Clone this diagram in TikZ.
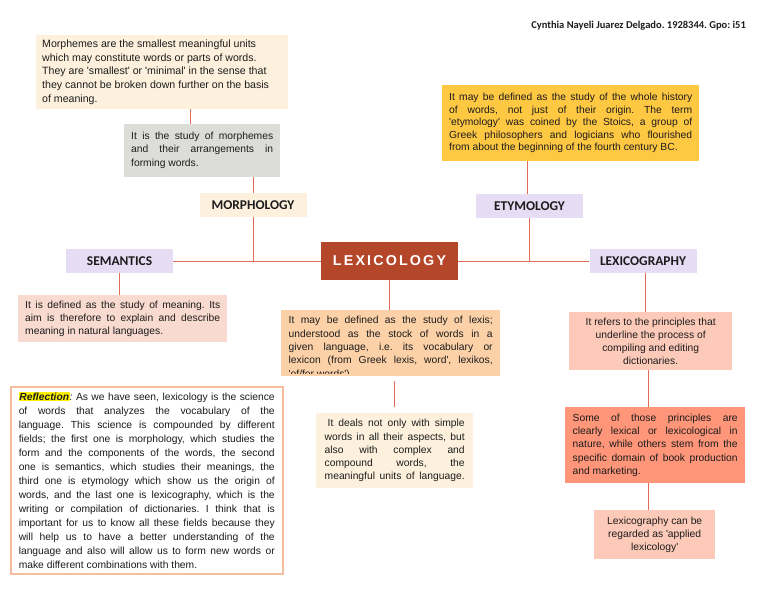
\documentclass[tikz,border=0pt]{standalone}
\usepackage{fontspec}
\setmainfont{Liberation Sans}
\newfontfamily\calf{Carlito}
\newfontfamily\lexf{Liberation Sans}[LetterSpace=15]
\usetikzlibrary{calc}
\definecolor{cream}{HTML}{FDF1DD}
\definecolor{graybx}{HTML}{DCDCD9}
\definecolor{lav}{HTML}{E6DCF3}
\definecolor{lexred}{HTML}{B4472A}
\definecolor{gold}{HTML}{FFC843}
\definecolor{salmonl}{HTML}{FDCAB9}
\definecolor{salmond}{HTML}{FF967A}
\definecolor{semp}{HTML}{F9DAD0}
\definecolor{peach}{HTML}{FDD1A8}
\definecolor{refl}{HTML}{F5BC9E}
\definecolor{connc}{HTML}{E26B55}
\definecolor{txt}{HTML}{1C1C1C}
\newlength\jw
\newcommand\Z{\spaceskip=0pt\xspaceskip=0pt\frenchspacing}
\newcommand\J[1]{\leavevmode\hbox to \jw{\Z #1}}
\newcommand\sq{\textquotesingle}
\setlength\fboxsep{0.6pt}
\newcommand\bodyfont[2]{\fontsize{10.3}{#1}\selectfont\setlength\jw{#2}}
\begin{document}
\begin{tikzpicture}[x=1pt,y=-1pt,
  box/.style={anchor=north west, inner ysep=0pt, text=txt, align=left},
  cbox/.style={box, align=flush center},
  lab/.style={fill=lav, minimum width=107pt, minimum height=24pt, inner sep=0pt,
    text=txt, font=\calf\bfseries\fontsize{13.4}{15}\selectfont},
  conn/.style={draw=connc, line width=0.9pt}]
\useasboundingbox (0,0) rectangle (768,594);

% header
\node[anchor=east, inner sep=0pt, text=txt, font=\calf\bfseries\fontsize{10.5}{12}\selectfont] (hdr) at (746,26)
  {\Z Cynthia Nayeli Juarez Delgado. 1928344. Gpo: i51};

% morphemes definition
\node[box, fill=cream, inner xsep=6pt, text width=240pt, minimum width=252pt, minimum height=74pt,
  font=\fontsize{10.6}{13.6}\selectfont] (mdef) at (36,35)
  {\Z Morphemes are the smallest meaningful units\\
   which may constitute words or parts of words.\\
   They are \sq smallest\sq{} or \sq minimal\sq{} in the sense that\\
   they cannot be broken down further on the basis\\
   of meaning.};

% morphology definition
\node[box, fill=graybx, inner xsep=7pt, text width=142pt, minimum height=53pt, font=\bodyfont{13.4}{142pt}] (gray) at (124,123.5)
  {\Z\J{It is the study of morphemes}\\
   \J{and their arrangements in}\\
   forming words.};

% labels
\node[lab, fill=cream] (morph) at (253,205) {MORPHOLOGY};
\node[lab] (sem) at (119.5,261) {SEMANTICS};
\node[lab] (ety) at (529.5,206) {ETYMOLOGY};
\node[lab] (lexg) at (643,261) {LEXICOGRAPHY};
\node[fill=lexred, minimum width=137pt, minimum height=38pt, inner sep=0pt, text=white,
  font=\lexf\bfseries\fontsize{14.3}{16}\selectfont] (lex) at (389.5,261) {LEXICOLOGY};

% etymology definition
\node[box, fill=gold, inner xsep=7pt, text width=243pt, minimum height=76pt, font=\bodyfont{12.5}{243pt}] (etydef) at (442,85)
  {\Z\J{It may be defined as the study of the whole history}\\
   \J{of words, not just of their origin. The term}\\
   \J{\sq etymology\sq{} was coined by the Stoics, a group of}\\
   \J{Greek philosophers and logicians who flourished}\\
   from about the beginning of the fourth century BC.};

% semantics definition
\node[box, fill=semp, inner xsep=7pt, text width=195pt, minimum height=47pt, font=\bodyfont{12.7}{195pt}] (semdef) at (18,295)
  {\Z\J{It is defined as the study of meaning. Its}\\
   \J{aim is therefore to explain and describe}\\
   meaning in natural languages.};

% lexis definition (last line clipped)
\node[box, fill=peach, minimum width=219pt, minimum height=66pt, inner sep=0pt] (lexis) at (281,310) {};
\begin{scope}
\clip (281,310) rectangle (500,373);
\node[box, inner xsep=7.5pt, inner ysep=6.3pt, text width=204pt, font=\bodyfont{13.3}{204pt}] (lexist) at (281,310)
  {\Z\J{It may be defined as the study of lexis;}\\
   \J{understood as the stock of words in a}\\
   \J{given language, i.e. its vocabulary or}\\
   \J{lexicon (from Greek lexis, word\sq, lexikos,}\\
   \sq of/for words\sq)};
\end{scope}

% deals
\node[box, fill=cream, inner xsep=8.5pt, text width=140pt, minimum height=75pt, font=\bodyfont{13.2}{140pt}] (deals) at (316,413)
  {\Z\J{\hspace{3pt}It deals not only with simple}\\
   \J{words in all their aspects, but}\\
   \J{also with complex and}\\
   \J{compound words, the}\\
   \J{meaningful units of language.}};

% lexicography definition
\node[cbox, fill=salmonl, inner xsep=6pt, text width=151pt, minimum height=58pt, font=\bodyfont{13.2}{151pt}] (lgdef) at (569,312)
  {\Z It refers to the principles that\\
   underline the process of\\
   compiling and editing\\
   dictionaries.};

\node[box, fill=salmond, inner xsep=7.5pt, text width=165pt, minimum height=76pt, font=\bodyfont{13.3}{165pt}] (some) at (565,407)
  {\Z\J{Some of those principles are}\\
   \J{clearly lexical or lexicological in}\\
   \J{nature, while others stem from the}\\
   \J{specific domain of book production}\\
   and marketing.};

\node[cbox, fill=salmonl, inner xsep=5pt, text width=111pt, minimum height=49pt, font=\bodyfont{13.3}{111pt}] (applied) at (594,510)
  {\Z Lexicography can be\\
   regarded as \sq applied\\
   lexicology\sq};

% reflection
\node[box, draw=refl, line width=1.5pt, fill=white, inner xsep=8pt, text width=256pt, minimum height=187pt,
  font=\bodyfont{14}{256pt}] (refl) at (10,386)
  {\Z\J{\colorbox{yellow}{\textbf{\textit{Reflection}}}\textit{:} As we have seen, lexicology is the science}\\
   \J{of words that analyzes the vocabulary of the}\\
   \J{language. This science is compounded by different}\\
   \J{fields; the first one is morphology, which studies the}\\
   \J{form and the components of the words, the second}\\
   \J{one is semantics, which studies their meanings, the}\\
   \J{third one is etymology which show us the origin of}\\
   \J{words, and the last one is lexicography, which is the}\\
   \J{writing or compilation of dictionaries. I think that is}\\
   \J{important for us to know all these fields because they}\\
   \J{will help us to have a better understanding of the}\\
   \J{language and also will allow us to form new words or}\\
   make different combinations with them.};

% connectors
\draw[conn] (sem.east) -- (lex.west);
\draw[conn] (lex.east) -- (lexg.west);
\draw[conn] (morph.south) -- (morph.south |- sem.east);
\draw[conn] (ety.south) -- (ety.south |- lex.east);
\draw[conn] ([xshift=28pt]mdef.south) -- ([xshift=28pt]mdef.south |- gray.north);
\draw[conn] (morph.north) -- (morph.north |- gray.south);
\draw[conn] ([xshift=-2pt]ety.north) -- ([xshift=-2pt]ety.north |- etydef.south);
\draw[conn] (sem.south) -- (sem.south |- semdef.north);
\draw[conn] (lex.south) -- (lex.south |- lexis.north);
\draw[conn] ([yshift=-5pt]lexis.south -| deals.north) -- ([yshift=6pt]deals.north);
\draw[conn] ([xshift=2pt]lexg.south) -- ([xshift=2pt]lexg.south |- lgdef.north);
\draw[conn] ([xshift=-2.5pt]lgdef.south) -- ([xshift=-2.5pt]lgdef.south |- some.north);
\draw[conn] ([xshift=-6.5pt]applied.north) -- ([xshift=-6.5pt]applied.north |- some.south);
\end{tikzpicture}
\end{document}
